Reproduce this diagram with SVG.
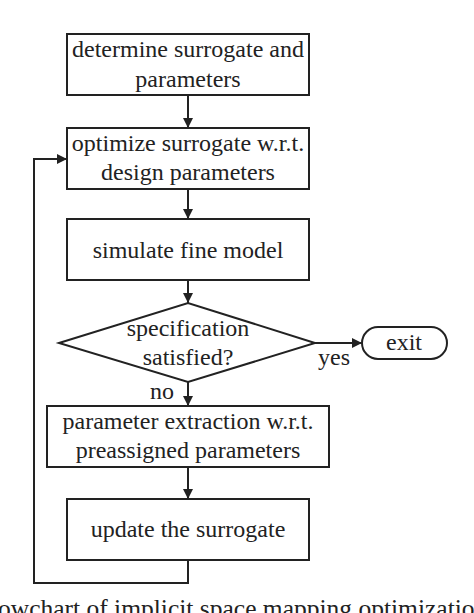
<svg xmlns="http://www.w3.org/2000/svg" width="474" height="613" viewBox="0 0 474 613">
<defs>
<style>
.box{fill:#fff;stroke:#222;stroke-width:2}
.t{font-family:"Liberation Serif","Times New Roman",serif;font-size:24px;fill:#222;text-anchor:middle}
.c{fill:none;stroke:#222;stroke-width:2}
</style>
<marker id="ah" viewBox="0 0 10 10" refX="10" refY="5" markerWidth="10" markerHeight="10" markerUnits="userSpaceOnUse" orient="auto">
<path d="M0,0 L10,5 L0,10 Z" fill="#222"/>
</marker>
</defs>
<rect width="474" height="613" fill="#fff"/>
<g id="connectors">
<line class="c" x1="188" y1="95" x2="188" y2="128" marker-end="url(#ah)"/>
<line class="c" x1="188" y1="189" x2="188" y2="219" marker-end="url(#ah)"/>
<line class="c" x1="188" y1="280" x2="188" y2="303" marker-end="url(#ah)"/>
<line class="c" x1="315" y1="343" x2="362" y2="343" marker-end="url(#ah)"/>
<line class="c" x1="188" y1="382" x2="188" y2="406" marker-end="url(#ah)"/>
<line class="c" x1="188" y1="467" x2="188" y2="499" marker-end="url(#ah)"/>
<polyline class="c" points="188,560 188,583 34,583 34,159 67,159" marker-end="url(#ah)"/>
<text class="t" x="334" y="365">yes</text>
<text class="t" x="162" y="399">no</text>
</g>
<g id="n1">
<rect class="box" x="67" y="34" width="242" height="61"/>
<text class="t" x="188" y="57">determine surrogate and</text>
<text class="t" x="188" y="87">parameters</text>
</g>
<g id="n2">
<rect class="box" x="67" y="128" width="242" height="61"/>
<text class="t" x="188" y="151">optimize surrogate w.r.t.</text>
<text class="t" x="188" y="180">design parameters</text>
</g>
<g id="n3">
<rect class="box" x="67" y="219" width="242" height="61"/>
<text class="t" x="188" y="258">simulate fine model</text>
</g>
<g id="n4">
<polygon class="box" points="59,343 188,303 315,343 188,382"/>
<text class="t" x="188" y="336">specification</text>
<text class="t" x="188" y="365">satisfied?</text>
</g>
<g id="n5">
<rect class="box" x="362" y="327" width="85" height="32" rx="16"/>
<text class="t" x="404" y="350">exit</text>
</g>
<g id="n6">
<rect class="box" x="47" y="406" width="282" height="61"/>
<text class="t" x="188" y="429">parameter extraction w.r.t.</text>
<text class="t" x="188" y="458">preassigned parameters</text>
</g>
<g id="n7">
<rect class="box" x="67" y="499" width="242" height="61"/>
<text class="t" x="188" y="537">update the surrogate</text>
</g>
<text x="-2" y="617" font-family="Liberation Serif, serif" font-size="25.5" fill="#222">owchart of implicit space mapping optimization</text>
</svg>
